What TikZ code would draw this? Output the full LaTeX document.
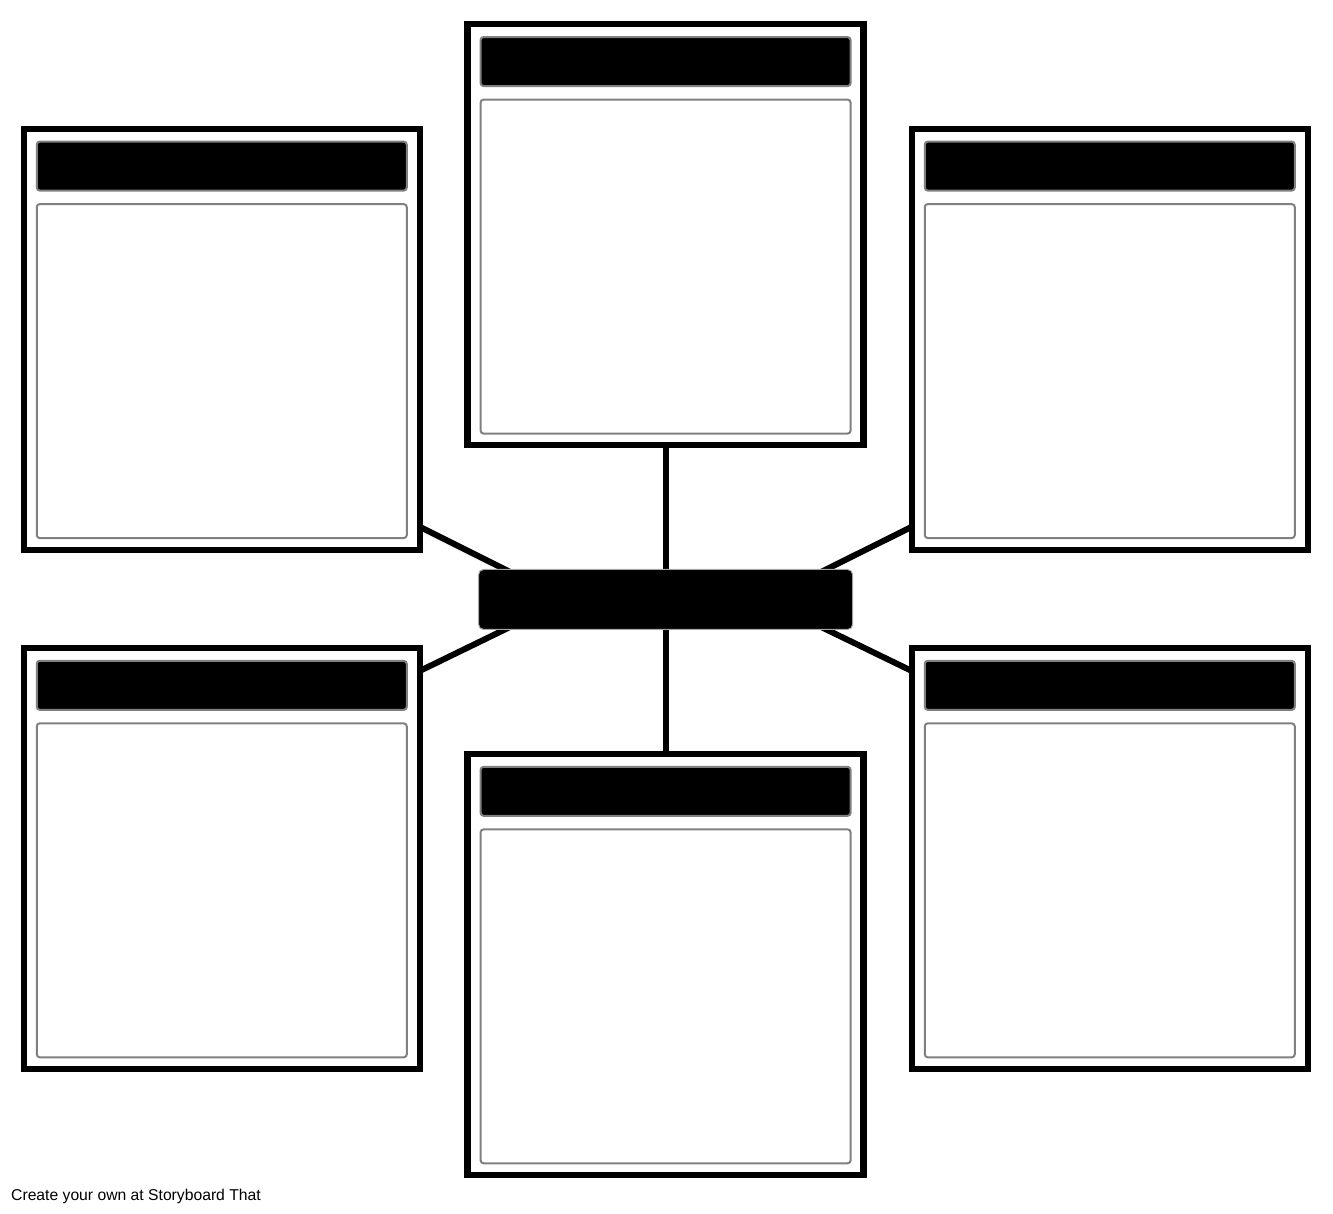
\documentclass[tikz,border=0pt]{standalone}
\usepackage{fontspec}
\setmainfont{Liberation Sans}
\usetikzlibrary{positioning}
\usetikzlibrary{calc}
\usetikzlibrary{backgrounds}

\begin{document}
\begin{tikzpicture}[x=1pt, y=1pt,
        panel/.style={draw, line width=6.3pt, fill=white, inner sep=0pt,
          minimum width=396pt, minimum height=421pt},
        header/.style={draw=gray, line width=2pt, fill=black, rounded corners=3pt,
          inner sep=0pt, minimum width=370pt, minimum height=49pt},
        content/.style={draw=gray, line width=2pt, fill=white, rounded corners=3pt,
          inner sep=0pt, minimum width=370pt, minimum height=334pt},
        hub/.style={draw=gray!70, line width=1pt, fill=black, rounded corners=5pt,
          inner sep=0pt, minimum width=374pt, minimum height=60pt},
        link/.style={line width=6pt}]
        \useasboundingbox (0,0) rectangle (1333,1214);

        % six panels with a title bar and a text area
        \foreach \nm/\px/\py in {tl/221.75/874.75, tm/665.6/979.25, tr/1109.75/874.75,
                                 bl/221.75/355.5, bm/665.6/249.5, br/1109.75/355.5} {
          \node[panel] (\nm) at (\px,\py) {};
          \node[header, below=15pt of \nm.north] (\nm-head) {};
          \node[content, below=11.5pt of \nm-head] (\nm-body) {};
        }

        \node[hub] (hub) at (665.6,614.5) {};

        \begin{scope}[on background layer]
          \draw[link] (tm) -- (hub);
          \draw[link] (hub) -- (bm);
          \draw[link] ($(tl.south east)+(-5,27)$) -- ($(hub.north west)+(34,-4)$);
          \draw[link] ($(tr.south west)+(5,27)$) -- ($(hub.north east)+(-34,-4)$);
          \draw[link] ($(bl.north east)+(-5,-27)$) -- ($(hub.south west)+(34,4)$);
          \draw[link] ($(br.north west)+(5,-27)$) -- ($(hub.south east)+(-34,4)$);
        \end{scope}

        \node[anchor=base west, font=\fontsize{15.7pt}{18pt}\selectfont, inner sep=0pt]
          (credit) at (11,13) {Create your own at Storyboard That};
      \end{tikzpicture}
\end{document}
